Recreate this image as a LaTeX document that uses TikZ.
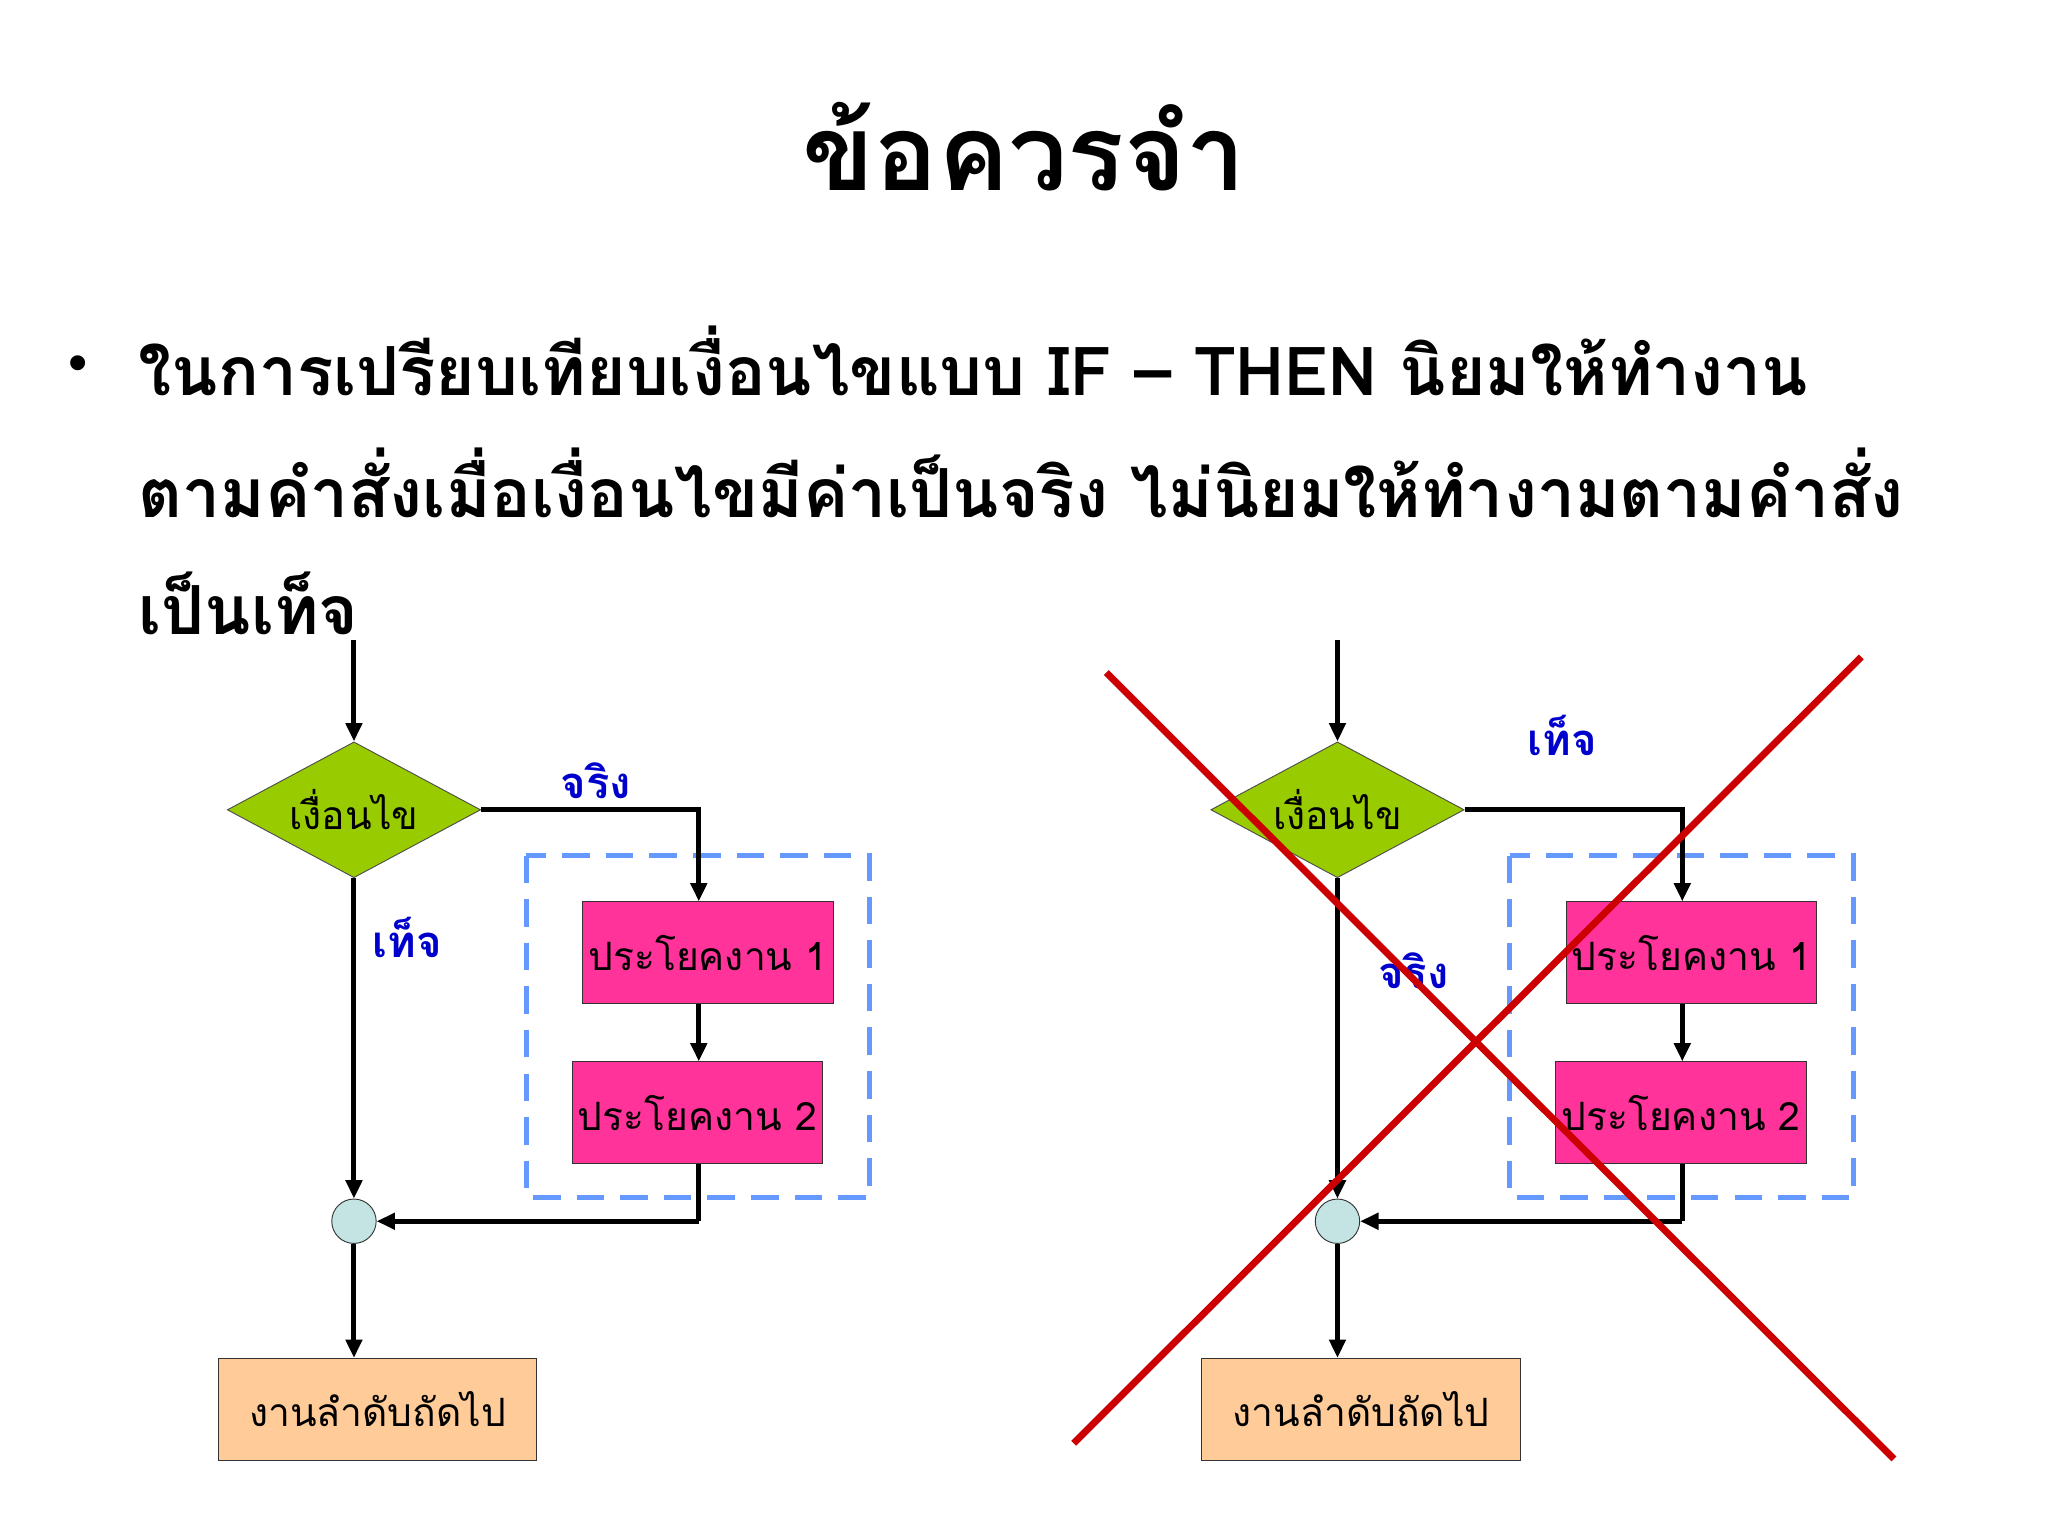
\documentclass[tikz,border=0pt]{standalone}
\usepackage{fontspec}
\setmainfont{Liberation Sans}
\newfontfamily\thai[Script=Thai]{Loma}
\usetikzlibrary{shapes.geometric,arrows.meta}
\definecolor{dgreen}{HTML}{99CC00}
\definecolor{mag}{HTML}{FF3399}
\definecolor{peach}{HTML}{FFCC99}
\definecolor{jc}{HTML}{C4E4E4}
\definecolor{dash}{HTML}{6699FF}
\begin{document}
\begin{tikzpicture}[x=0.02cm,y=-0.02cm,
 ln/.style={line width=2.2pt,-{Triangle[length=8pt,width=7pt]}},
 pl/.style={line width=2.2pt},
 dec/.style={diamond,draw=black!70,fill=dgreen,minimum width=3.88cm,minimum height=2.08cm,inner sep=0pt,aspect=1.87,font=\thai\fontsize{17}{17}\selectfont},
 work/.style={draw=black!80,fill=mag,minimum height=1.56cm,inner sep=0pt,font=\thai\fontsize{17}{17}\selectfont},
 nextbox/.style={draw=black!80,fill=peach,minimum width=4.88cm,minimum height=1.56cm,inner sep=0pt,font=\thai\fontsize{17}{17}\selectfont},
 joint/.style={circle,draw=black!80,fill=jc,minimum size=0.68cm,inner sep=0pt},
 lab/.style={text=blue!80!black,font=\thai\bfseries\fontsize{19}{19}\selectfont},
 grp/.style={draw=dash,dashed,dash pattern=on 12pt off 7pt,line width=2.2pt}]
\useasboundingbox (0,0) rectangle (1568,1176);
\fill[white] (0,0) rectangle (1568,1176);
\node (title) at (784,112) {\thai\bfseries\fontsize{46}{46}\selectfont ข้อควรจำ};
\node (bul) at (60,282) {\fontsize{24}{24}\selectfont •};
\node[anchor=west] (l1) at (100,276) {\thai\bfseries\fontsize{29.5}{30}\selectfont ในการเปรียบเทียบเงื่อนไขแบบ IF – THEN นิยมให้ทำงาน};
\node[anchor=west] (l2) at (100,370) {\thai\bfseries\fontsize{29.5}{30}\selectfont ตามคำสั่งเมื่อเงื่อนไขมีค่าเป็นจริง ไม่นิยมให้ทำงามตามคำสั่ง};
\node[anchor=west] (l3) at (100,462) {\thai\bfseries\fontsize{29.5}{30}\selectfont เป็นเท็จ};
\foreach \o/\n in {0/L, 753/R}{
 \begin{scope}[xshift=\o*0.02cm]
 \draw[grp] (403,655) rectangle (666,917);
 \coordinate (top\n) at (271,490);
 \node[dec] (d\n) at (271,620) {เงื่อนไข};
 \node[work,minimum width=3.84cm] (a\n) at (542,729.5) {ประโยคงาน 1};
 \node[work,minimum width=3.84cm] (b\n) at (534,852) {ประโยคงาน 2};
 \node[joint] (j\n) at (271,935) {};
 \node[nextbox] (n\n) at (289,1079) {งานลำดับถัดไป};
 \coordinate (c1\n) at (535,620);
 \coordinate (c2\n) at (535,935);
 \draw[ln] (top\n) -- (d\n.north);
 \draw[ln] (d\n.east) -- (c1\n) -- (c1\n |- a\n.north);
 \draw[ln] (c1\n |- a\n.south) -- (c1\n |- b\n.north);
 \draw[pl] (c1\n |- b\n.south) -- (c2\n);
 \draw[ln] (c2\n) -- (j\n.east);
 \draw[ln] (d\n.south) -- (j\n.north);
 \draw[ln] (j\n.south) -- (n\n.north -| j\n);
 \end{scope}
}
\node[lab] (tL) at (456,598) {จริง};
\node[lab] (fL) at (312,718) {เท็จ};
\node[lab] (tR) at (1196,563) {เท็จ};
\node[lab] (fR) at (1082,743) {จริง};
\draw[red!80!black,line width=3pt] (847,515) -- (1450,1117);
\draw[red!80!black,line width=3pt] (1425,503) -- (822,1105);
\end{tikzpicture}
\end{document}
